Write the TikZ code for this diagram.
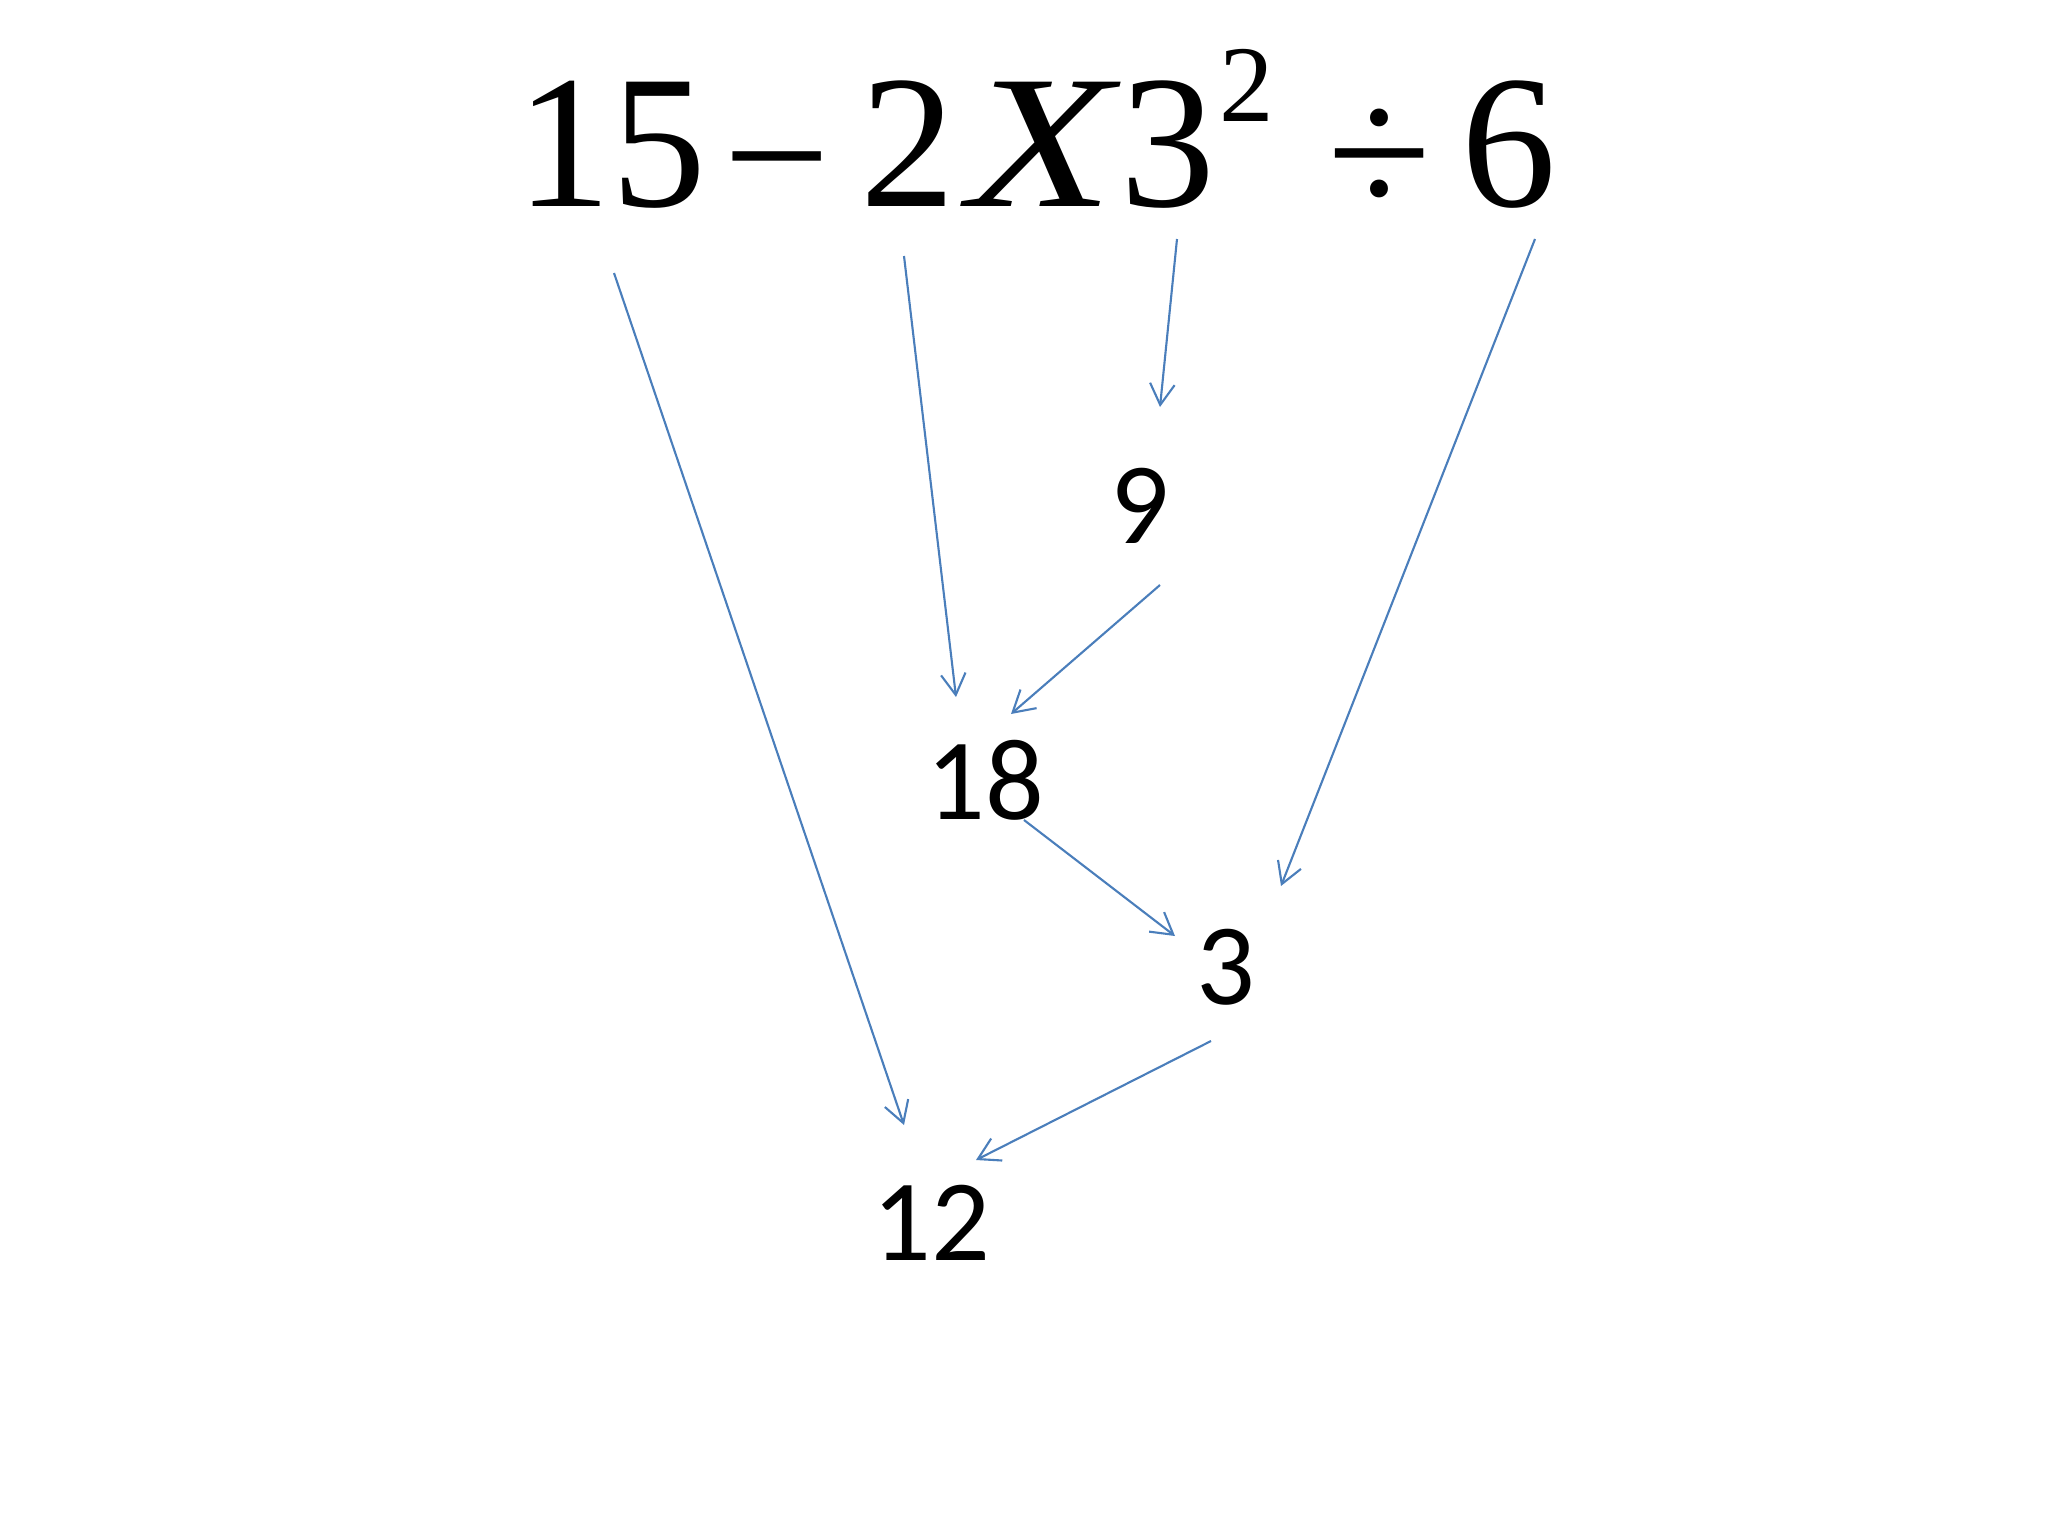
\documentclass[tikz,border=0pt]{standalone}
\usepackage{fontspec}
\setmainfont{Liberation Serif}
\newfontfamily\calib{Carlito}
\usetikzlibrary{arrows.meta}
\definecolor{arrblue}{HTML}{4A7EBB}
\tikzset{arr/.style={draw=arrblue, line width=0.6pt, -{Straight Barb[length=6pt,width=7pt]}}}
\tikzset{top/.style={inner sep=0pt, anchor=base, font=\fontsize{54}{60}\selectfont}}
\tikzset{num/.style={inner sep=0pt, anchor=base, font=\calib\fontsize{33}{38}\selectfont}}

\begin{document}
\begin{tikzpicture}[x=0.01cm, y=-0.01cm]
      \useasboundingbox (0, 0) rectangle (2048, 1536);

      % the expression
      \node [top] (t15) at (611, 206) {15};
      \node [top] (tminus) at (777, 219) {−};
      \node [top] (t2) at (908, 206) {2};
      \node [top, xscale=1.25] (tX) at (1041, 206) {\itshape X};
      \node [top] (t3) at (1168, 206) {3};
      \node [inner sep=0pt, anchor=base, font=\fontsize{31}{34}\selectfont] (tsq) at (1247, 121) {2};
      \node [top] (tdiv) at (1380, 216) {÷};
      \node [top] (t6) at (1509, 206) {6};

      % the steps
      \node [num] (n9) at (1140, 543) {9};
      \node [num] (n18) at (985, 819) {18};
      \node [num] (n3) at (1226, 1004) {3};
      \node [num] (n12) at (931, 1260) {12};

      \draw [arr] ([shift={(3,67)}]t15.base) -- ([shift={(-27,-135)}]n12.base);
      \draw [arr] ([shift={(-4,50)}]t2.base) -- ([shift={(-29,-122)}]n18.base);
      \draw [arr] ([shift={(9,33)}]t3.base) -- ([shift={(20,-136)}]n9.base);
      \draw [arr] ([shift={(26,33)}]t6.base) -- ([shift={(55,-118)}]n3.base);
      \draw [arr] ([shift={(20,42)}]n9.base) -- ([shift={(26,-105)}]n18.base);
      \draw [arr] ([shift={(39,1)}]n18.base) -- ([shift={(-51,-68)}]n3.base);
      \draw [arr] ([shift={(-15,37)}]n3.base) -- ([shift={(45,-100)}]n12.base);
\end{tikzpicture}
\end{document}
